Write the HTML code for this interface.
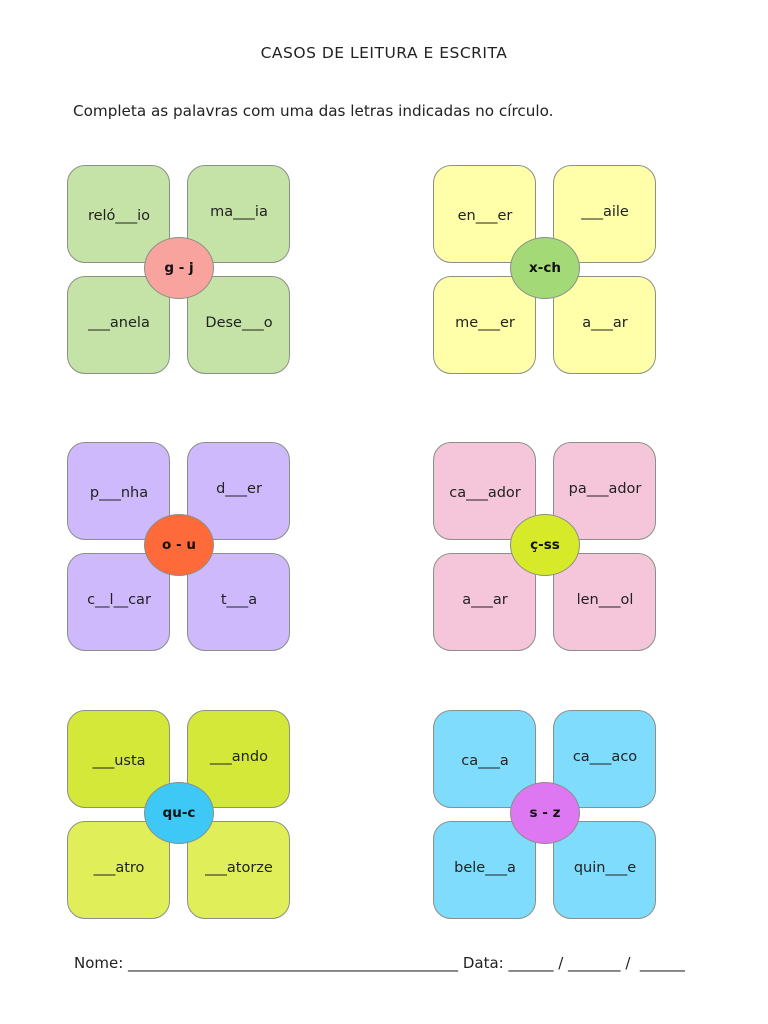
<!DOCTYPE html>
<html><head><meta charset="utf-8"><style>
body{margin:0;width:768px;height:1024px;background:#fff;position:relative;font-family:"DejaVu Sans","Liberation Sans",sans-serif;color:#222;overflow:hidden}
.b{position:absolute;width:103px;height:98px;border:1.5px solid #8a8f88;border-radius:18px;box-sizing:border-box}
.t{position:absolute;font-size:14.5px;white-space:nowrap;transform:translate(-50%,-50%)}
.c{position:absolute;width:70px;height:62px;border-radius:50%;border:1.5px solid #8a8f88;box-sizing:border-box;font-weight:bold;font-size:13.5px;display:flex;align-items:center;justify-content:center;color:#111}
.h{position:absolute;font-size:15.5px}
</style></head><body>
<div class="h" style="left:0;width:768px;text-align:center;top:44px;letter-spacing:0.5px">CASOS DE LEITURA E ESCRITA</div>
<div class="h" style="left:73px;top:102px;font-size:15.2px">Completa as palavras com uma das letras indicadas no círculo.</div>
<div id="f"></div>
<div class="h" style="left:74px;top:954px;font-size:15px;white-space:nowrap">Nome: ____________________________________________ Data: ______ / _______ / &nbsp;______</div>
<script>
var F=[
[67,165,'#c5e3a7','#c5e3a7','#f9a39e','g - j',['reló___io','ma___ia','___anela','Dese___o']],
[433,165,'#ffffaa','#ffffaa','#a3d977','x-ch',['en___er','___aile','me___er','a___ar']],
[67,442,'#cdb9fc','#cdb9fc','#ff6a3a','o - u',['p___nha','d___er','c__l__car','t___a']],
[433,442,'#f5c6d9','#f5c6d9','#d6ea2a','ç-ss',['ca___ador','pa___ador','a___ar','len___ol']],
[67,710,'#d4e83a','#e0ee5a','#3ec8f5','qu-c',['___usta','___ando','___atro','___atorze']],
[433,710,'#80dcfc','#80dcfc','#dd77f2','s - z',['ca___a','ca___aco','bele___a','quin___e']]];
var h='';
F.forEach(function(f){var x=f[0],y=f[1];
var pos=[[x,y,f[2],x+52,y+51],[x+120,y,f[2],x+172,y+47],[x,y+111,f[3],x+52,y+158],[x+120,y+111,f[3],x+172,y+158]];
pos.forEach(function(p,i){h+='<div class="b" style="left:'+p[0]+'px;top:'+p[1]+'px;background:'+p[2]+'"></div><div class="t" style="left:'+p[3]+'px;top:'+p[4]+'px">'+f[6][i]+'</div>';});
h+='<div class="c" style="left:'+(x+77)+'px;top:'+(y+72)+'px;background:'+f[4]+'">'+f[5]+'</div>';});
document.getElementById('f').innerHTML=h;
</script>
</body></html>
